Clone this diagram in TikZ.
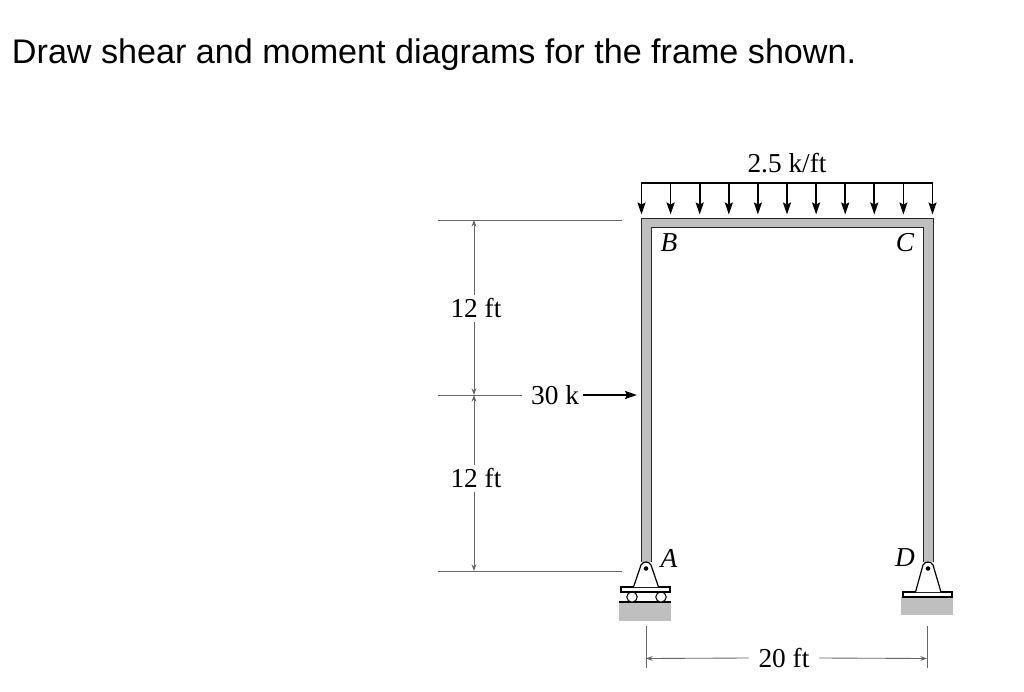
\documentclass[tikz,border=0pt]{standalone}
\usepackage{fontspec}
\setmainfont{Liberation Serif}
\newfontfamily\titlefont{Liberation Sans}
\usetikzlibrary{arrows.meta, positioning}

\begin{document}
\begin{tikzpicture}
    [x=0.75pt, y=-0.75pt, outer sep = 0pt,
    dimline/.style={draw=black!60, line width=0.65pt},
    dimarrow/.style={dimline, -{Stealth[length=5pt, width=3.6pt]}},
    loadarrow/.style={draw=black, line width=1.3pt, -{Stealth[length=9pt, width=6pt, inset=1.5pt]}},
    label/.style={inner sep=0pt, font=\fontsize{20.5}{22}\selectfont},
    letter/.style={inner sep=0pt, font=\fontsize{20.5}{22}\selectfont\itshape},
    ground/.style={fill=black!25, draw=none},
    plate/.style={draw=black, fill=white, line width=0.8pt},
    pinbase/.style={draw=black, fill=white, line width=0.9pt, line join=round}]

    \useasboundingbox [fill=white] (0,0) rectangle (1024,692);

    \node (title) [anchor=west, inner sep=0pt, font=\fontsize{25.6}{28}\selectfont\titlefont]
    at (12,55) {Draw shear and moment diagrams for the frame shown.};

    % frame
    \fill [black!25] (641,562) -- (641,218) -- (933,218) -- (933,562) --
    (923,562) -- (923,227) -- (651.5,227) -- (651.5,562) -- cycle;
    \draw [line width=0.65pt, black!85] (641,562) -- (641,218) -- (933,218) -- (933,562);
    \draw [line width=0.65pt, black!85] (651.5,562) -- (651.5,227) -- (923,227) -- (923,562);

    % uniform load
    \coordinate (load_left) at (641.5,183);
    \coordinate (load_right) at (932.5,183);
    \draw [line width=1.3pt, line cap=round] (load_left) -- (load_right);
    \foreach \i in {0,...,10} {
      \coordinate (load_\i) at (641.5+29.1*\i,183);
      \coordinate (tip_\i) at (641.5+29.1*\i,214.5);
      \draw [loadarrow] (load_\i) -- (tip_\i);
    }
    \node (load_text) [label] at (787,163) {2.5 k/ft};

    \node (B) [letter] at (669,243) {B};
    \node (C) [letter] at (905,243) {C};
    \node (A) [letter] at (669,558) {A};
    \node (D) [letter] at (905,558) {D};

    % support at A
    \fill [ground] (619,602) rectangle (671,621);
    \draw [line width=1pt] (619,602) -- (671,602);
    \draw [line width=0.8pt, fill=white] (632,597) circle (3.9pt);
    \draw [line width=0.8pt, fill=white] (661,597) circle (3.9pt);
    \draw [plate] (621,587) rectangle (670,592);
    \draw [pinbase] (633.5,587) -- (641,565) .. controls (643,561) and (649,561) ..
    (651,565) -- (658.5,587);
    \fill (646,568.5) circle (1.7pt);

    % support at D
    \fill [ground] (901,597) rectangle (953,615);
    \draw [plate] (903,592) rectangle (952,597);
    \draw [pinbase] (915.5,592) -- (923,565) .. controls (925,561) and (931,561) ..
    (933,565) -- (941,592);
    \fill (928,568.5) circle (1.7pt);

    % point load
    \node (force_text) [label] at (555,395) {30 k};
    \coordinate (force_tip) at (637,395);
    \draw [loadarrow, line width=1.5pt] (force_text.east) ++(4,0) -- (force_tip);

    % height dimensions
    \coordinate (ext_top) at (438,220);
    \coordinate (ext_mid) at (438,395);
    \coordinate (ext_bot) at (438,571);
    \coordinate (dim_top) at (474,220);
    \coordinate (dim_mid) at (474,395);
    \coordinate (dim_bot) at (474,571);
    \draw [dimline] (ext_top) -- (622,220);
    \draw [dimline] (ext_mid) -- (522,395);
    \draw [dimline] (ext_bot) -- (622,571);
    \node (upper_text) [label, minimum height=27pt*0.75] at (476,308) {12 ft};
    \node (lower_text) [label, minimum height=27pt*0.75] at (476,478) {12 ft};
    \draw [dimarrow] (dim_top |- upper_text.north) -- (dim_top);
    \draw [dimarrow] (dim_mid |- upper_text.south) -- (dim_mid);
    \draw [dimarrow] (dim_mid |- lower_text.north) -- (dim_mid);
    \draw [dimarrow] (dim_bot |- lower_text.south) -- (dim_bot);

    % width dimension
    \coordinate (tick_left) at (646,626);
    \coordinate (tick_right) at (927,626);
    \coordinate (span_left) at (646,658.5);
    \coordinate (span_right) at (927,658.5);
    \draw [dimline] (tick_left) -- (646,668);
    \draw [dimline] (tick_right) -- (927,668);
    \node (span_text) [label] at (784,658) {20 ft};
    \draw [dimarrow] (span_text.west) ++(-10,0) -- (span_left);
    \draw [dimarrow] (span_text.east) ++(10,0) -- (span_right);
  \end{tikzpicture}
\end{document}
